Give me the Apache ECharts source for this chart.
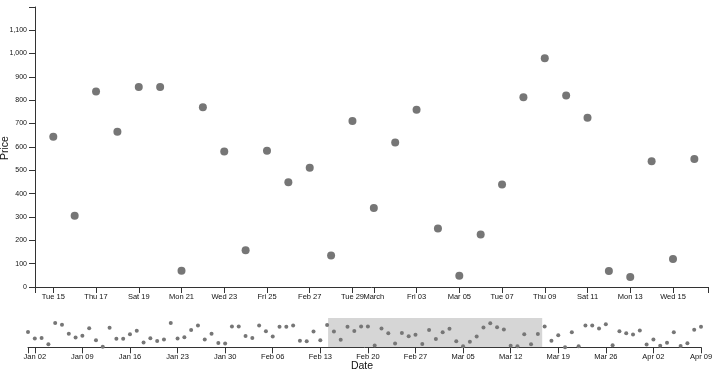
<!DOCTYPE html>
<html>
<head>
<meta charset="utf-8">
<script src="https://cdn.jsdelivr.net/npm/echarts@6/dist/echarts.min.js"></script>
<style>
html,body{margin:0;padding:0;background:#fff;}
#chart{width:720px;height:372px;}
</style>
</head>
<body>
<div id="chart"></div>
<script>
// ---- data ----
var firstDate = '2000-01-01';
var prices = [
  // Jan 1 - Jan 31
  630, 360, 380, 120, 995, 925, 557, 405, 477, 775, 290, 18, 796, 350, 345, 535,
  677, 199, 375, 257, 324, 995, 362, 410, 708, 887, 318, 557, 177, 151, 855,
  // Feb 1 - Feb 29
  855, 462, 382, 887, 661, 438, 836, 836, 887, 263, 251, 649, 290, 915,
  643, 305, 837, 665, 856, 856, 70, 770, 580, 157, 583, 449, 511, 135, 711,
  // Mar 1 - Mar 31
  338, 619, 759, 250, 48, 225, 439, 813, 980, 820, 725, 68, 43, 538, 120, 548,
  848, 270, 490, 6, 615, 46, 887, 887, 774, 939, 86, 660, 575, 523, 683,
  // Apr 1 - Apr 9
  119, 324, 64, 183, 615, 52, 165, 716, 842
];
var brushExtent = ['2000-02-14T03:27:00Z', '2000-03-16T15:19:00Z'];
var contextExtent = ['2000-01-01T00:00:00Z', '2000-04-09T00:00:00Z'];
var mainTickDates = ['2000-02-15','2000-02-17','2000-02-19','2000-02-21','2000-02-23','2000-02-25','2000-02-27','2000-02-29','2000-03-01','2000-03-03','2000-03-05','2000-03-07','2000-03-09','2000-03-11','2000-03-13','2000-03-15'];
var mainTickLabels = ['Tue 15','Thu 17','Sat 19','Mon 21','Wed 23','Fri 25','Feb 27','Tue 29','March','Fri 03','Mar 05','Tue 07','Thu 09','Sat 11','Mon 13','Wed 15'];
var ctxTickDates = ['2000-01-02','2000-01-09','2000-01-16','2000-01-23','2000-01-30','2000-02-06','2000-02-13','2000-02-20','2000-02-27','2000-03-05','2000-03-12','2000-03-19','2000-03-26','2000-04-02','2000-04-09'];
var ctxTickLabels = ['Jan 02','Jan 09','Jan 16','Jan 23','Jan 30','Feb 06','Feb 13','Feb 20','Feb 27','Mar 05','Mar 12','Mar 19','Mar 26','Apr 02','Apr 09'];
var yTicks = [0,100,200,300,400,500,600,700,800,900,1000,1100];
var yMax = 1199;
var yTitle = 'Price';
var xTitle = 'Date';

// ---- build ----
var DAY = 86400000;
function ts(s){ return Date.parse(s.length === 10 ? s + 'T00:00:00Z' : s); }
var t0 = ts(firstDate);
var points = prices.map(function(v, i){ return [t0 + i * DAY, v]; });
var bStart = ts(brushExtent[0]), bEnd = ts(brushExtent[1]);
var cStart = ts(contextExtent[0]), cEnd = ts(contextExtent[1]);
var mainTicks = mainTickDates.map(ts);
var ctxTicks = ctxTickDates.map(ts);
var labelMap = {};
mainTicks.forEach(function(t, i){ labelMap['m' + t] = mainTickLabels[i]; });
ctxTicks.forEach(function(t, i){ labelMap['c' + t] = ctxTickLabels[i]; });

var FONT = '"Liberation Sans", Arial, sans-serif';
var axisLine = { show: true, lineStyle: { color: '#333', width: 1 } };
var dotColor = '#767676';

var chart = echarts.init(document.getElementById('chart'), null, { renderer: 'canvas' });
chart.setOption({
  animation: false,
  backgroundColor: '#fff',
  grid: [
    { left: 35, top: 7, width: 673, height: 280, containLabel: false, outerBoundsMode: 'none' },
    { left: 28, top: 318, width: 673, height: 29.3, containLabel: false, outerBoundsMode: 'none' }
  ],
  graphic: [
    {
      type: 'text', x: 5.5, y: 148, rotation: Math.PI / 2,
      style: { text: yTitle, fontSize: 10.5, fill: '#111', fontFamily: FONT, align: 'center', verticalAlign: 'middle' }
    },
    {
      type: 'text', x: 362, y: 366,
      style: { text: xTitle, fontSize: 10.5, fill: '#111', fontFamily: FONT, align: 'center', verticalAlign: 'middle' }
    }
  ],
  xAxis: [
    {
      gridIndex: 0, type: 'value', min: bStart, max: bEnd,
      axisLine: axisLine, splitLine: { show: false },
      axisTick: { show: true, length: 6, lineStyle: { color: '#333' }, customValues: [bStart].concat(mainTicks, [bEnd]) },
      axisLabel: {
        customValues: mainTicks, margin: 6, fontSize: 7.5, color: '#111', fontFamily: FONT,
        formatter: function(v){ return labelMap['m' + v] || ''; }
      }
    },
    {
      gridIndex: 1, type: 'value', min: cStart, max: cEnd,
      axisLine: axisLine, splitLine: { show: false },
      axisTick: { show: true, length: 6, lineStyle: { color: '#333' }, customValues: [cStart].concat(ctxTicks) },
      axisLabel: {
        customValues: ctxTicks, margin: 6, fontSize: 7.5, color: '#111', fontFamily: FONT,
        formatter: function(v){ return labelMap['c' + v] || ''; }
      }
    }
  ],
  yAxis: [
    {
      gridIndex: 0, type: 'value', min: 0, max: yMax,
      axisLine: axisLine, splitLine: { show: false },
      axisTick: { show: true, length: 6, lineStyle: { color: '#333' }, customValues: yTicks.concat([yMax]) },
      axisLabel: {
        customValues: yTicks, margin: 8, fontSize: 7, color: '#111', fontFamily: FONT,
        formatter: function(v){ return v.toLocaleString('en-US'); }
      }
    },
    {
      gridIndex: 1, type: 'value', min: 0, max: yMax, show: false
    }
  ],
  series: [
    {
      type: 'scatter', xAxisIndex: 0, yAxisIndex: 0, data: points,
      symbol: 'circle', symbolSize: 8, clip: true,
      itemStyle: { color: dotColor, opacity: 1 }
    },
    {
      type: 'scatter', xAxisIndex: 1, yAxisIndex: 1, data: points,
      symbol: 'circle', symbolSize: 4, clip: true,
      itemStyle: { color: dotColor, opacity: 1 },
      markArea: {
        silent: true,
        itemStyle: { color: 'rgba(119,119,119,0.3)' },
        data: [[{ xAxis: bStart }, { xAxis: bEnd }]]
      }
    }
  ]
});
</script>
</body>
</html>
